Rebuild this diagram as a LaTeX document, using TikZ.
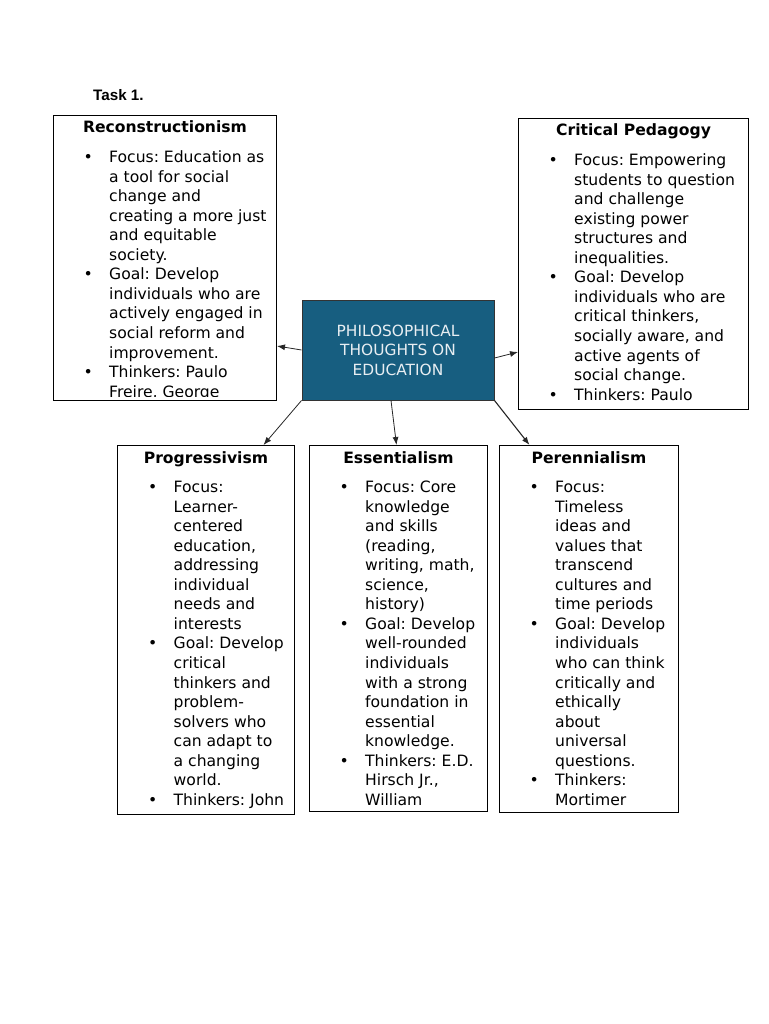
\documentclass[tikz,border=0pt]{standalone}
\usepackage{fontspec}
\setmainfont{DejaVu Sans}
\newfontfamily\taskfont{Liberation Sans}
\usetikzlibrary{arrows.meta}
\definecolor{centerblue}{RGB}{23,94,128}
\definecolor{centertext}{RGB}{232,238,242}
\newcommand\bul{\makebox[25.5pt][l]{•}}
\frenchspacing
\tikzset{
  box/.style={draw=black, line width=1pt, anchor=north west, inner sep=0pt},
  ttl/.style={anchor=base, inner sep=0pt, font=\fontsize{15.6}{19.56}\selectfont\bfseries},
  body/.style={anchor=base west, inner sep=0pt, font=\fontsize{15.6}{19.56}\selectfont\frenchspacing},
  arr/.style={-{Latex[length=8pt,width=6pt]}, line width=0.8pt, draw=black!85},
}
\begin{document}
\begin{tikzpicture}[x=1pt,y=-1pt]
\useasboundingbox (0,0) rectangle (768,1024);
\node[anchor=base west, inner sep=0pt, font=\taskfont\bfseries\fontsize{15.2}{17}\selectfont] (task) at (93,101) {Task 1.};

% boxes
\node[box, minimum width=223pt, minimum height=285pt] (rec) at (53,115) {};
\node[box, minimum width=230pt, minimum height=291pt] (cp) at (518,118) {};
\node[box, minimum width=177pt, minimum height=369pt] (prog) at (117,445) {};
\node[box, minimum width=178pt, minimum height=366pt] (ess) at (309,445) {};
\node[box, minimum width=179pt, minimum height=367pt] (per) at (499,445) {};
\node[draw=black!80, line width=1pt, fill=centerblue, text=centertext, minimum width=192pt, minimum height=100pt, align=center, inner sep=0pt, font=\fontsize{15.4}{19.5}\selectfont] (cen) at (398,350) {PHILOSOPHICAL\\THOUGHTS ON\\EDUCATION};

% Reconstructionism
\begin{scope}
\clip ([yshift=4.5pt]rec.south west) rectangle (rec.north east);
\node[ttl] (rect) at ([yshift=-18pt]rec.north) {Reconstructionism};
\node[body] (recb) at ([xshift=30.5pt,yshift=-47.5pt]rec.north west) {\begin{tabular}[t]{@{}l@{}l@{}}
\bul & Focus: Education as\\
 & a tool for social\\
 & change and\\
 & creating a more just\\
 & and equitable\\
 & society.\\
\bul & Goal: Develop\\
 & individuals who are\\
 & actively engaged in\\
 & social reform and\\
 & improvement.\\
\bul & Thinkers: Paulo\\
 & Freire, George
\end{tabular}};
\end{scope}

% Critical Pedagogy
\begin{scope}
\clip (cp.south west) rectangle (cp.north east);
\node[ttl] (cpt) at ([yshift=-18pt]cp.north) {Critical Pedagogy};
\node[body] (cpb) at ([xshift=30.5pt,yshift=-47.5pt]cp.north west) {\begin{tabular}[t]{@{}l@{}l@{}}
\bul & Focus: Empowering\\
 & students to question\\
 & and challenge\\
 & existing power\\
 & structures and\\
 & inequalities.\\
\bul & Goal: Develop\\
 & individuals who are\\
 & critical thinkers,\\
 & socially aware, and\\
 & active agents of\\
 & social change.\\
\bul & Thinkers: Paulo
\end{tabular}};
\end{scope}

% Progressivism
\begin{scope}
\clip (prog.south west) rectangle (prog.north east);
\node[ttl] (progt) at ([yshift=-18pt]prog.north) {Progressivism};
\node[body] (progb) at ([xshift=31pt,yshift=-47.5pt]prog.north west) {\begin{tabular}[t]{@{}l@{}l@{}}
\bul & Focus:\\
 & Learner-\\
 & centered\\
 & education,\\
 & addressing\\
 & individual\\
 & needs and\\
 & interests\\
\bul & Goal: Develop\\
 & critical\\
 & thinkers and\\
 & problem-\\
 & solvers who\\
 & can adapt to\\
 & a changing\\
 & world.\\
\bul & Thinkers: John
\end{tabular}};
\end{scope}

% Essentialism
\begin{scope}
\clip (ess.south west) rectangle (ess.north east);
\node[ttl] (esst) at ([yshift=-18pt]ess.north) {Essentialism};
\node[body] (essb) at ([xshift=30.5pt,yshift=-47.5pt]ess.north west) {\begin{tabular}[t]{@{}l@{}l@{}}
\bul & Focus: Core\\
 & knowledge\\
 & and skills\\
 & (reading,\\
 & writing, math,\\
 & science,\\
 & history)\\
\bul & Goal: Develop\\
 & well-rounded\\
 & individuals\\
 & with a strong\\
 & foundation in\\
 & essential\\
 & knowledge.\\
\bul & Thinkers: E.D.\\
 & Hirsch Jr.,\\
 & William
\end{tabular}};
\end{scope}

% Perennialism
\begin{scope}
\clip (per.south west) rectangle (per.north east);
\node[ttl] (pert) at ([yshift=-18pt]per.north) {Perennialism};
\node[body] (perb) at ([xshift=30.5pt,yshift=-47.5pt]per.north west) {\begin{tabular}[t]{@{}l@{}l@{}}
\bul & Focus:\\
 & Timeless\\
 & ideas and\\
 & values that\\
 & transcend\\
 & cultures and\\
 & time periods\\
\bul & Goal: Develop\\
 & individuals\\
 & who can think\\
 & critically and\\
 & ethically\\
 & about\\
 & universal\\
 & questions.\\
\bul & Thinkers:\\
 & Mortimer
\end{tabular}};
\end{scope}

% connectors
\draw[arr] (cen.west) -- ([yshift=4pt]cen.west -| rec.east);
\draw[arr] ([yshift=-8pt]cen.east) -- ([yshift=-2pt]cen.east -| cp.west);
\draw[arr] (cen.south west) -- ([xshift=57.5pt]prog.north);
\draw[arr] ([xshift=-7pt]cen.south) -- ([xshift=-2pt]ess.north);
\draw[arr, line width=1.1pt] (cen.south east) -- ([xshift=-59.5pt]per.north);
\end{tikzpicture}
\end{document}
